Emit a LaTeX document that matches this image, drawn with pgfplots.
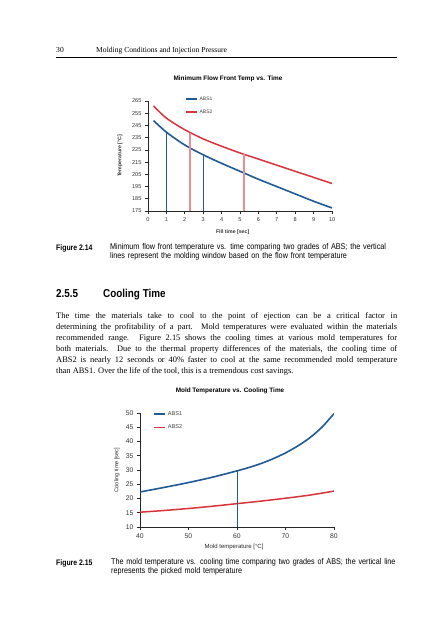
\documentclass[border=0pt]{standalone}
\usepackage{fontspec}
\usepackage{pgfplots}
\pgfplotsset{compat=1.18}
\setmainfont{Liberation Serif}
\newfontfamily\chartfont{Liberation Sans}
\newfontfamily\capfont[FakeStretch=0.86]{Liberation Sans}

\definecolor{absblue}{HTML}{1F5A96}
\definecolor{absred}{HTML}{D8333A}
\definecolor{abspink}{HTML}{EA8C94}
\definecolor{tickgray}{HTML}{333333}

\pgfplotsset{
  pagechart/.style={
    scale only axis,
    axis lines=left,
    axis line style={-, line width=0.8pt, black!85},
    tick align=outside,
    major tick length=3pt,
    tick style={line width=0.7pt, black!85},
    /pgf/number format/assume math mode=true,
    legend cell align=left,
    legend style={draw=none, fill=none, inner sep=0pt, row sep=4pt,
      text=black!75},
    legend image code/.code={\draw[#1] (0pt,0pt) -- (11pt,0pt);},
    title style={font=\chartfont\bfseries\fontsize{6.4}{7}\selectfont, anchor=base},
  },
}

\begin{document}
\begin{tikzpicture}[x=1pt,y=1pt]
\path[use as bounding box] (0,0) rectangle (440,-640);

% running head
\node[anchor=base west, inner sep=0pt, font=\fontsize{7.6}{9}\selectfont] at (56,-52) {30};
\node[anchor=base west, inner sep=0pt, font=\fontsize{7.6}{9}\selectfont] at (96,-52) {Molding Conditions and Injection Pressure};
\draw[line width=0.9pt] (56,-57.5) -- (397,-57.5);

% Figure 2.14
\begin{axis}[pagechart,
  at={(148pt,-211pt)}, anchor=origin,
  width=184pt, height=110pt,
  xmin=0, xmax=10, ymin=175, ymax=265,
  xtick={0,1,...,10}, ytick={175,185,...,265},
  ticklabel style={font=\chartfont\fontsize{5.6}{6}\selectfont, text=tickgray},
  title={Minimum Flow Front Temp vs. Time},
  title style={at={(axis description cs:0.435,1.13)}},
  xlabel={Fill time [sec]}, ylabel={Temperature [\textdegree C]},
  xlabel style={font=\chartfont\bfseries\fontsize{5.2}{6}\selectfont, text=black!80,
    at={(axis description cs:0.46,-0.19)}, anchor=center},
  ylabel style={font=\chartfont\bfseries\fontsize{5.2}{6}\selectfont, text=black!80,
    at={(axis description cs:-0.152,0.5)}, anchor=center, rotate=0},
  legend style={at={(axis description cs:0.2,1.06)}, anchor=north west,
    font=\chartfont\fontsize{5}{6}\selectfont},
]
\addplot[absblue, line width=1.6pt, smooth] coordinates {
  (0.3,249) (1,239.5) (2,229) (3,221) (4,214) (5,207.5) (6,201)
  (7,195) (8,189) (9,183) (10,177.5)};
\addlegendentry{ABS1}
\addplot[absred, line width=1.5pt, smooth] coordinates {
  (0.3,261) (1,251) (2,241.5) (3,234) (4,228) (5,222.5) (6,217.5)
  (7,212.5) (8,207.5) (9,202.5) (10,197.5)};
\addlegendentry{ABS2}
\addplot[absblue, line width=0.9pt, forget plot] coordinates {(1,175) (1,239.5)};
\addplot[absblue, line width=0.9pt, forget plot] coordinates {(3,175) (3,221)};
\addplot[abspink, line width=1.7pt, forget plot] coordinates {(2.3,175) (2.3,238.5)};
\addplot[abspink, line width=1.7pt, forget plot] coordinates {(5.2,175) (5.2,221.5)};
\end{axis}

\node[anchor=base west, inner sep=0pt, font=\capfont\bfseries\fontsize{8}{9}\selectfont] at (56,-250) {Figure 2.14};
\node[anchor=north west, inner sep=0pt, text width=300pt, align=left,
  font=\capfont\fontsize{8.4}{9}\selectfont] at (110,-243.5)
  {Minimum flow front temperature vs. time comparing two grades of ABS; the vertical\\
   lines represent the molding window based on the flow front temperature};

% section heading
\node[anchor=base west, inner sep=0pt, font=\capfont\bfseries\fontsize{11.5}{13}\selectfont] at (56,-297) {2.5.5};
\node[anchor=base west, inner sep=0pt, font=\capfont\bfseries\fontsize{11.5}{13}\selectfont] at (103,-297) {Cooling Time};

% paragraph
\node[anchor=north west, inner sep=0pt, text width=341pt, align=justify,
  font=\fontsize{8.4}{10.9}\selectfont] at (56,-312.5)
  {The time the materials take to cool to the point of ejection can be a critical factor in\linebreak
   determining the profitability of a part. Mold temperatures were evaluated within the materials\linebreak
   recommended range. Figure 2.15 shows the cooling times at various mold temperatures for\linebreak
   both materials. Due to the thermal property differences of the materials, the cooling time of\linebreak
   ABS2 is nearly 12 seconds or 40\% faster to cool at the same recommended mold temperature\linebreak
   than ABS1. Over the life of the tool, this is a tremendous cost savings.};

% Figure 2.15
\begin{axis}[pagechart,
  at={(140pt,-527pt)}, anchor=origin,
  width=194pt, height=114pt,
  xmin=40, xmax=80, ymin=10, ymax=50,
  xtick={40,50,...,80}, ytick={10,15,...,50},
  ticklabel style={font=\chartfont\fontsize{6.8}{7}\selectfont, text=tickgray},
  title={Mold Temperature vs. Cooling Time},
  title style={at={(axis description cs:0.464,1.123)}},
  xlabel={Mold temperature [\textdegree C]}, ylabel={Cooling time [sec]},
  xlabel style={font=\chartfont\fontsize{6}{7}\selectfont, text=black!85,
    at={(axis description cs:0.485,-0.175)}, anchor=center},
  ylabel style={font=\chartfont\fontsize{5.6}{7}\selectfont, text=black!85,
    at={(axis description cs:-0.119,0.5)}, anchor=center, rotate=0},
  legend style={at={(axis description cs:0.067,1.035)}, anchor=north west,
    font=\chartfont\fontsize{5.6}{7}\selectfont},
]
\addplot[absblue, line width=1.6pt, smooth] coordinates {
  (40,22.3) (45,23.9) (50,25.6) (55,27.5) (60,29.7) (62.5,30.9) (65,32.3)
  (67.5,34.0) (70,36.0) (72.5,38.4) (75,41.3) (77.5,45.0) (80,49.8)};
\addlegendentry{ABS1}
\addplot[absred, line width=1.5pt, smooth] coordinates {
  (40,15.2) (45,15.8) (50,16.5) (55,17.3) (60,18.2) (65,19.1)
  (70,20.1) (75,21.2) (80,22.6)};
\addlegendentry{ABS2}
\addplot[absblue, line width=0.8pt, forget plot] coordinates {(60,10) (60,29.7)};
\end{axis}

\node[anchor=base west, inner sep=0pt, font=\capfont\bfseries\fontsize{8}{9}\selectfont] at (56,-565) {Figure 2.15};
\node[anchor=north west, inner sep=0pt, text width=300pt, align=left,
  font=\capfont\fontsize{8.4}{9}\selectfont] at (111,-558.5)
  {The mold temperature vs. cooling time comparing two grades of ABS; the vertical line\\
   represents the picked mold temperature};
\end{tikzpicture}
\end{document}
